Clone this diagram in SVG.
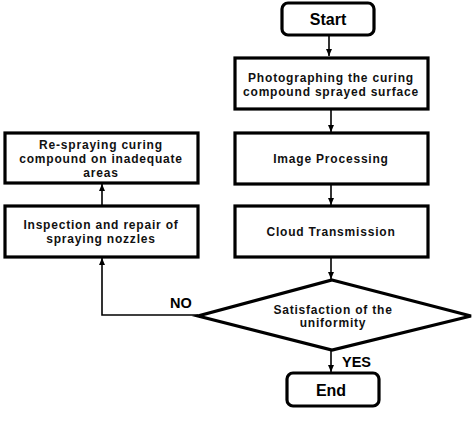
<svg xmlns="http://www.w3.org/2000/svg" width="474" height="423" viewBox="0 0 474 423">
<defs>
<style>
.box{fill:#fff;stroke:#000;stroke-width:3.2}
.t{font-family:"Liberation Sans",Arial,sans-serif;font-weight:bold;font-size:12px;text-anchor:middle;fill:#111;letter-spacing:0.8px}
.big{font-family:"Liberation Sans",Arial,sans-serif;font-weight:bold;font-size:16px;text-anchor:middle;fill:#000}
.lbl{font-family:"Liberation Sans",Arial,sans-serif;font-weight:bold;font-size:14.5px;fill:#000}
.c{fill:none;stroke:#000;stroke-width:1.6}
</style>
<marker id="ah" markerWidth="8" markerHeight="8" refX="7" refY="4" orient="auto" markerUnits="userSpaceOnUse">
<path d="M0,1 L7,4 L0,7 Z" fill="#000"/>
</marker>
</defs>
<rect width="474" height="423" fill="#fff"/>
<g id="connectors">
<path class="c" d="M329,35 V56" marker-end="url(#ah)"/>
<path class="c" d="M331,109 V132" marker-end="url(#ah)"/>
<path class="c" d="M331,184 V205" marker-end="url(#ah)"/>
<path class="c" d="M331,257 V279" marker-end="url(#ah)"/>
<path class="c" d="M331,350 V372" marker-end="url(#ah)"/>
<path class="c" d="M198,315 H102 V258" marker-end="url(#ah)"/>
<path class="c" d="M102,205 V184" marker-end="url(#ah)"/>
<text class="lbl" x="170" y="308">NO</text>
<text class="lbl" x="342" y="367">YES</text>
</g>
<g id="start">
<rect class="box" x="282" y="3" width="92" height="32" rx="6"/>
<text class="big" x="328" y="25">Start</text>
</g>
<g id="photo">
<rect class="box" x="235" y="58" width="193" height="51"/>
<text class="t" x="331" y="82">Photographing the curing</text>
<text class="t" x="331" y="96">compound sprayed surface</text>
</g>
<g id="image">
<rect class="box" x="235" y="133" width="193" height="51"/>
<text class="t" x="331" y="163">Image Processing</text>
</g>
<g id="cloud">
<rect class="box" x="235" y="206" width="193" height="51"/>
<text class="t" x="331" y="236">Cloud Transmission</text>
</g>
<g id="decision">
<polygon class="box" points="332,280 471,316 332,350 198,316"/>
<text class="t" x="333" y="314">Satisfaction of the</text>
<text class="t" x="333" y="327">uniformity</text>
</g>
<g id="end">
<rect class="box" x="287" y="373" width="92" height="33" rx="6"/>
<text class="big" x="331" y="396">End</text>
</g>
<g id="respray">
<rect class="box" x="5" y="133" width="193" height="50"/>
<text class="t" x="101" y="149">Re-spraying curing</text>
<text class="t" x="101" y="163">compound on inadequate</text>
<text class="t" x="101" y="177">areas</text>
</g>
<g id="inspect">
<rect class="box" x="5" y="206" width="193" height="51"/>
<text class="t" x="101" y="229">Inspection and repair of</text>
<text class="t" x="101" y="243">spraying nozzles</text>
</g>
</svg>
